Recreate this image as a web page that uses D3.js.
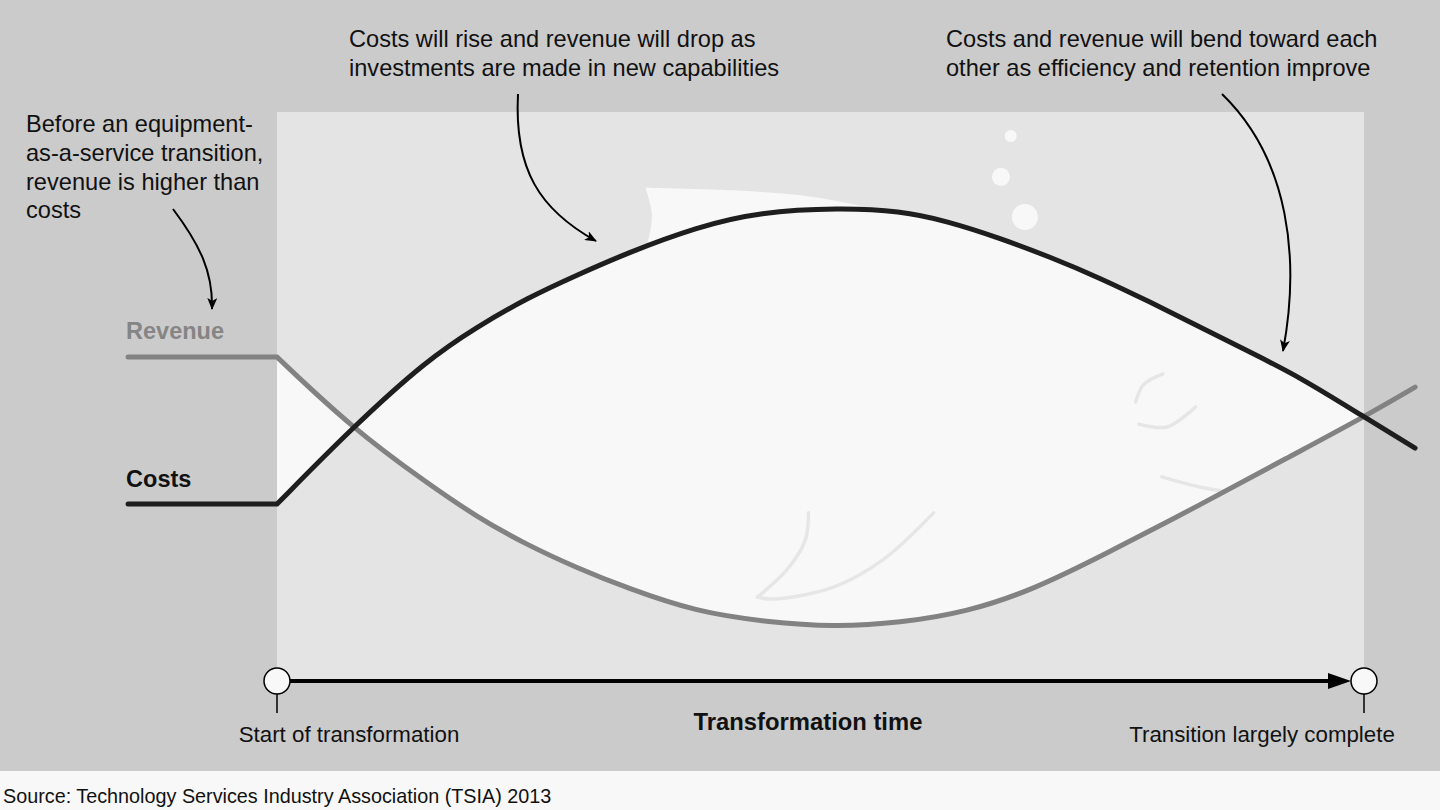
<!DOCTYPE html>
<html>
<head>
<meta charset="utf-8">
<script src="https://cdn.jsdelivr.net/npm/d3@7"></script>
<style>
    body { margin: 0; background: #cbcbcb; }
    svg { display: block; font-family: "Liberation Sans", Arimo, Arial, Helvetica, sans-serif; }
</style>
</head>
<body>
<div id="chart"></div>
<script>
// time index: 0 = start of transformation, 100 = transition largely complete
// value index: revenue before the transition = 100
const costsTime = [-13.7, 0, 6.9, 13.8, 18.4, 23.0, 27.6, 32.2, 38.6, 44.4, 51.8, 57.3, 61.6, 66.5, 71.1, 75.7, 80.3, 84.9, 89.5, 94.1, 100, 104.7]
const costsValue = [54.6, 54.6, 78.1, 99.1, 109.3, 118.2, 125.3, 132.1, 140.1, 144.8, 146.0, 145.1, 142.0, 136.7, 130.9, 124.4, 117.0, 109.3, 101.5, 93.8, 81.5, 71.9]
const revenueTime = [-13.7, 0, 6.9, 13.8, 18.4, 23.0, 27.6, 32.2, 38.6, 45.1, 51.2, 57.3, 63.5, 69.5, 75.7, 84.9, 92.9, 100, 104.7]
const revenueValue = [100, 100, 78.1, 61.1, 50.6, 42.0, 34.9, 28.7, 21.3, 18.2, 16.7, 17.9, 21.3, 28.1, 38.3, 54.3, 68.8, 81.5, 90.7]

const seriesNames = ["Revenue", "Costs"]
const axisLabels = ["Start of transformation", "Transformation time", "Transition largely complete"]
const notes = [
    ["Before an equipment-", "as-a-service transition,", "revenue is higher than", "costs"],
    ["Costs will rise and revenue will drop as", "investments are made in new capabilities"],
    ["Costs and revenue will bend toward each", "other as efficiency and retention improve"]
]
const sourceText = "Source: Technology Services Industry Association (TSIA) 2013"

// fish drawing (same time / value units)
const dorsalEdge = [[34.1, 135.2], [34.5, 143.8], [33.9, 152.2]]
const dorsalTop = [[33.9, 152.2], [43.2, 151.2], [49.3, 149.4], [53.9, 146.6]]
const eyeUpper = [[81.5, 94.8], [79.7, 91.4], [79.0, 86.1]]
const eyeLower = [[79.3, 79.3], [81.9, 78.4], [84.5, 84.6]]
const mouth = [[81.4, 63.0], [84.9, 59.9], [87.7, 58.3]]
const finFront = [[48.9, 51.9], [48.6, 43.5], [46.9, 34.3], [44.2, 25.9]]
const finBack = [[44.2, 25.9], [45.6, 25.3], [51.2, 29.0], [55.7, 37.3], [60.4, 51.9]]
const bubbles = [[67.5, 168.2, 6], [66.6, 155.6, 9], [68.8, 143.2, 13]]

const config = {
    width: 1440,
    height: 810,
    panelTop: 112,
    footerTop: 771,
    outer: "#cbcbcb",
    panel: "#e4e4e4",
    fish: "#f8f8f8",
    deco: "#e6e6e6",
    costs: "#1e1e1e",
    revenue: "#828282"
}

const svg = d3.select("#chart")
    .append("svg")
    .attr("width", config.width)
    .attr("height", config.height)

const x = d3.scaleLinear().domain([0, 100]).range([277, 1364])
const y = d3.scaleLinear().domain([0, 100]).range([681, 357])

const costs = costsTime.map((t, i) => [t, costsValue[i]])
const revenue = revenueTime.map((t, i) => [t, revenueValue[i]])

const straight = d3.line().x(d => x(d[0])).y(d => y(d[1]))
const smooth = d3.line().x(d => x(d[0])).y(d => y(d[1])).curve(d3.curveBasis)
const through = d3.line().x(d => x(d[0])).y(d => y(d[1])).curve(d3.curveCatmullRom.alpha(0.5))

// backgrounds
svg.append("rect").attr("width", config.width).attr("height", config.footerTop).attr("fill", config.outer)
svg.append("rect").attr("y", config.footerTop).attr("width", config.width)
    .attr("height", config.height - config.footerTop).attr("fill", "#f8f8f8")
svg.append("rect")
    .attr("x", x(0)).attr("y", config.panelTop)
    .attr("width", x(100) - x(0)).attr("height", y(0) - config.panelTop)
    .attr("fill", config.panel)

const defs = svg.append("defs")
defs.append("marker")
    .attr("id", "head")
    .attr("viewBox", "0 0 12 10")
    .attr("refX", 11).attr("refY", 5)
    .attr("markerWidth", 12).attr("markerHeight", 10)
    .attr("markerUnits", "userSpaceOnUse")
    .attr("orient", "auto")
    .append("path").attr("d", "M0,0 L12,5 L0,10 L3,5 Z").attr("fill", "#000")

// fish body
const g_fish = svg.append("g")
g_fish.append("path")
    .attr("d", through(dorsalEdge) + through(dorsalTop).replace(/^M/, "L") + "Z")
    .attr("fill", config.fish)
const crossC = costsTime.indexOf(100)
const crossR = revenueTime.indexOf(100)
g_fish.append("path")
    .attr("d", smooth(costs.slice(1, crossC + 2)) +
        smooth(revenue.slice(1, crossR + 2).reverse()).replace(/^M/, "L") + "Z")
    .attr("fill", config.fish)
// trim the fish fill at the crossing point on the right
g_fish.append("rect")
    .attr("x", x(100) + 1).attr("y", y(120)).attr("width", 60).attr("height", y(50) - y(120))
    .attr("fill", config.outer)

g_fish.selectAll("circle.bubble")
    .data(bubbles)
    .join("circle")
    .attr("class", "bubble")
    .attr("cx", d => x(d[0]))
    .attr("cy", d => y(d[1]))
    .attr("r", d => d[2])
    .attr("fill", config.fish)

g_fish.selectAll("path.deco")
    .data([eyeUpper, eyeLower, mouth, finFront, finBack])
    .join("path")
    .attr("class", "deco")
    .attr("d", d => through(d))
    .attr("fill", "none")
    .attr("stroke", config.deco)
    .attr("stroke-width", 3.5)
    .attr("stroke-linecap", "round")

// series lines: flat lead-in then curve
function seriesPath(pts) {
    return straight(pts.slice(0, 2)) + smooth(pts.slice(1)).replace(/^M/, "L")
}
const g_lines = svg.append("g")
g_lines.append("path")
    .attr("d", seriesPath(revenue))
    .attr("fill", "none")
    .attr("stroke", config.revenue)
    .attr("stroke-width", 5)
    .attr("stroke-linecap", "round")
g_lines.append("path")
    .attr("d", seriesPath(costs))
    .attr("fill", "none")
    .attr("stroke", config.costs)
    .attr("stroke-width", 5)
    .attr("stroke-linecap", "round")

// series labels
g_lines.append("text")
    .attr("x", x(costsTime[0]) - 2).attr("y", y(revenueValue[0]) - 18)
    .attr("font-size", 23.5).attr("font-weight", "bold").attr("fill", "#858585")
    .text(seriesNames[0])
g_lines.append("text")
    .attr("x", x(costsTime[0]) - 2).attr("y", y(costsValue[0]) - 17)
    .attr("font-size", 23.5).attr("font-weight", "bold").attr("fill", "#111")
    .text(seriesNames[1])

// time axis
const g_axis = svg.append("g")
const r = 13
const axisY = y(0)
g_axis.append("line")
    .attr("x1", x(0) + r).attr("x2", x(100) - r - 18)
    .attr("y1", axisY).attr("y2", axisY)
    .attr("stroke", "#000").attr("stroke-width", 4)
g_axis.append("path")
    .attr("d", `M${x(100) - r - 23},${axisY - 8} L${x(100) - r},${axisY} L${x(100) - r - 23},${axisY + 8} Z`)
    .attr("fill", "#000")
g_axis.selectAll("line.tick")
    .data([0, 100])
    .join("line")
    .attr("class", "tick")
    .attr("x1", d => x(d)).attr("x2", d => x(d))
    .attr("y1", axisY + r).attr("y2", axisY + 32)
    .attr("stroke", "#000").attr("stroke-width", 1.5)
g_axis.selectAll("circle")
    .data([0, 100])
    .join("circle")
    .attr("cx", d => x(d)).attr("cy", axisY)
    .attr("r", r)
    .attr("fill", config.fish)
    .attr("stroke", "#000").attr("stroke-width", 1.5)
g_axis.selectAll("text.end")
    .data([[0, axisLabels[0], 72], [100, axisLabels[2], -102]])
    .join("text")
    .attr("class", "end")
    .attr("x", d => x(d[0]) + d[2]).attr("y", axisY + 61)
    .attr("text-anchor", "middle").attr("font-size", 22.3).attr("fill", "#111")
    .text(d => d[1])
g_axis.append("text")
    .attr("x", 808).attr("y", axisY + 49)
    .attr("text-anchor", "middle").attr("font-size", 23.8).attr("font-weight", "bold").attr("fill", "#111")
    .text(axisLabels[1])

// annotations
const g_text = svg.append("g").attr("font-size", 23.6).attr("fill", "#111")
const notePos = [[26, 132], [349, 47], [946, 47]]
notes.forEach((lines, i) => {
    const t = g_text.append("text").attr("x", notePos[i][0]).attr("y", notePos[i][1])
    lines.forEach((l, j) => {
        t.append("tspan").attr("x", notePos[i][0]).attr("dy", j === 0 ? 0 : 28.8).text(l)
    })
})

const g_arrow = svg.append("g")
    .attr("fill", "none").attr("stroke", "#000").attr("stroke-width", 2)
g_arrow.selectAll("path")
    .data([
        "M173,209 C200,245 213,272 212,309",
        "M518,94 C514,170 540,210 596,241",
        "M1222,94 C1290,160 1300,260 1283,351"
    ])
    .join("path")
    .attr("d", d => d)
    .attr("marker-end", "url(#head)")

svg.append("text")
    .attr("x", 3).attr("y", 803)
    .attr("font-size", 19.8).attr("fill", "#111")
    .text(sourceText)
</script>
</body>
</html>
